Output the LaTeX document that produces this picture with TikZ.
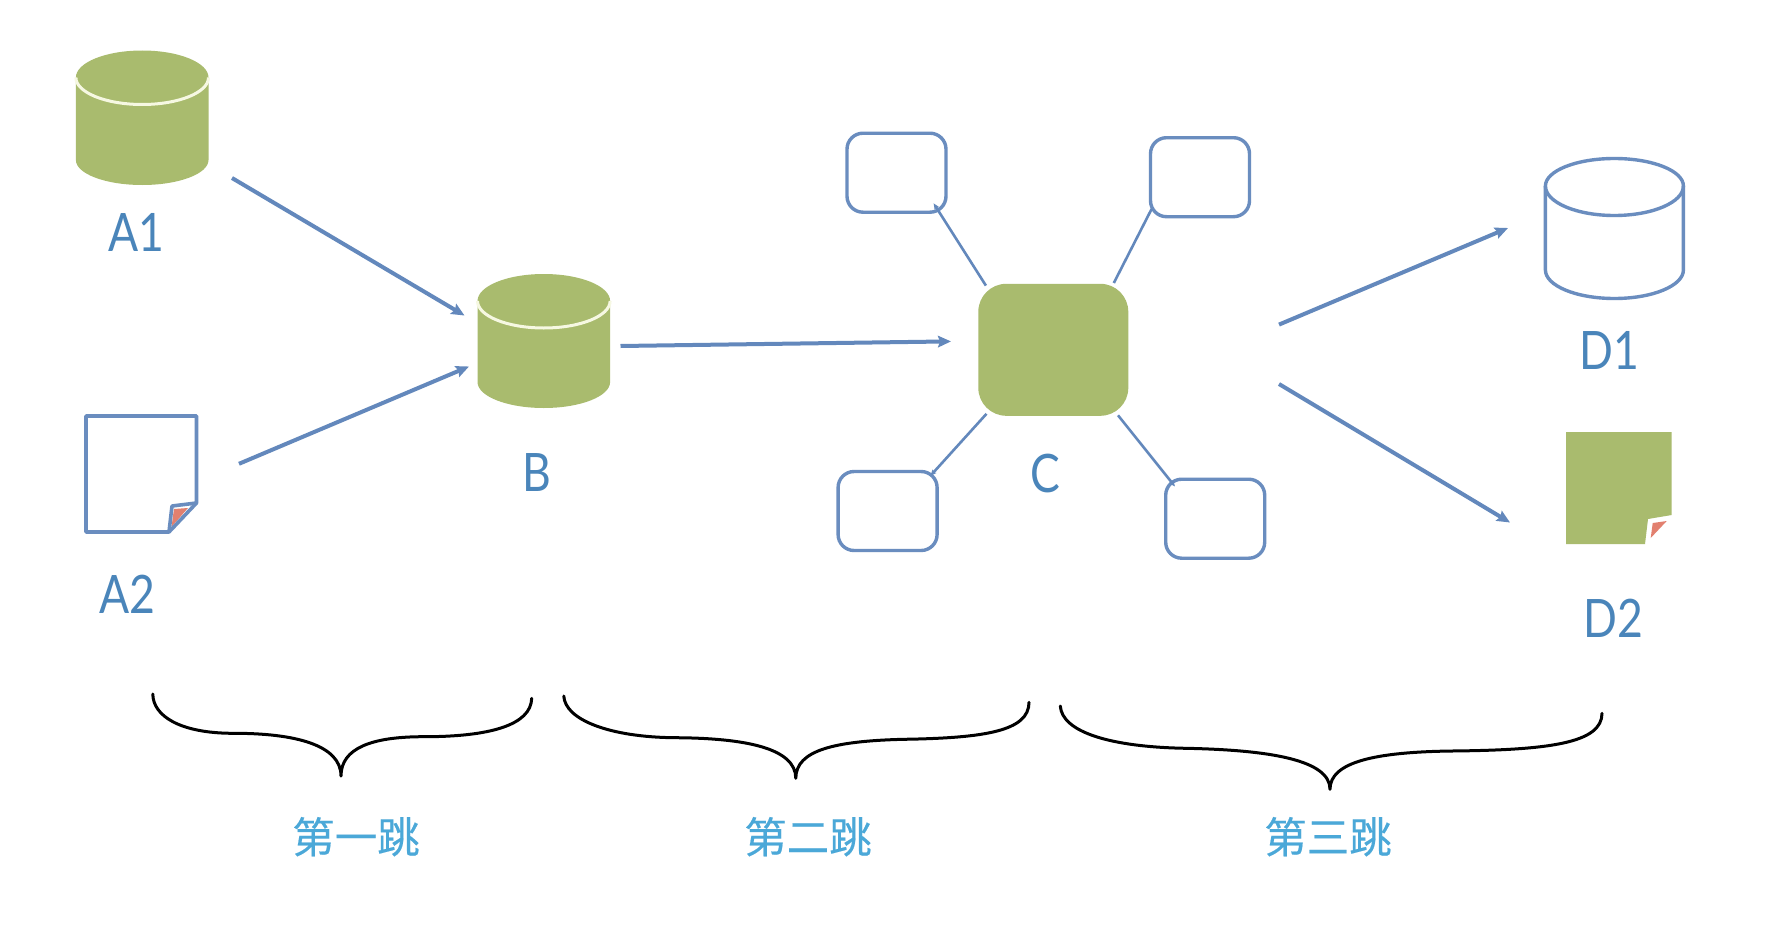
\documentclass[tikz,border=0pt]{standalone}
\usepackage{fontspec}
\usetikzlibrary{arrows.meta}
\setmainfont{Lato}[FakeStretch=0.84]
\newfontfamily\cjkfont[FakeBold=0.35]{Noto Sans CJK SC}
\definecolor{leaf}{HTML}{A9BB6E}
\definecolor{cream}{HTML}{F6F8E2}
\definecolor{edgeblue}{HTML}{6A8DBF}
\definecolor{arrowblue}{HTML}{6388BC}
\definecolor{labelblue}{HTML}{4A85BA}
\definecolor{hopblue}{HTML}{4BA8D8}
\definecolor{foldred}{HTML}{E2806F}
\tikzset{
  flow/.style={draw=arrowblue,line width=4pt,-{Stealth[length=13pt,width=11.5pt,inset=2pt]}},
  spoke/.style={draw=arrowblue,line width=2.6pt,-{Stealth[length=6pt,width=5pt,inset=1pt]}},
  plainspoke/.style={draw=arrowblue,line width=2.6pt},
  smallbox/.style={draw=edgeblue,line width=3.4pt,rounded corners=16pt,minimum width=99pt,minimum height=79pt,inner sep=0pt},
  hub/.style={fill=leaf,rounded corners=28pt,minimum width=150pt,minimum height=132pt,inner sep=0pt},
  letter/.style={text=labelblue,font=\fontsize{53pt}{54pt}\selectfont,anchor=base,inner sep=0pt},
  hop/.style={text=hopblue,font=\cjkfont\fontsize{42.5pt}{43pt}\selectfont,inner sep=0pt},
  bracestroke/.style={draw=black,line width=3pt,line cap=round,line join=round},
}
% cx, top side y, bottom side y, rx, top ry, bottom ry
\newcommand{\solidbarrel}[6]{%
  \fill[leaf] (#1-#4,#2) arc[start angle=180,end angle=0,x radius=#4pt,y radius=#5pt]
    -- (#1+#4,#3) arc[start angle=0,end angle=-180,x radius=#4pt,y radius=#6pt] -- cycle;
  \draw[cream,line width=3pt] (#1-#4,#2) arc[start angle=180,end angle=360,x radius=#4pt,y radius=#5pt];
}
\begin{document}
\begin{tikzpicture}[x=1pt,y=-1pt]
\useasboundingbox[fill=white] (0,0) rectangle (1788,942);

% cylinders
\solidbarrel{142.2}{77.5}{160}{66.3}{27}{25}
\solidbarrel{543.8}{301}{382}{66.3}{27}{26}
\draw[edgeblue,line width=3.4pt,line join=round]
  (1545.4,186) arc[start angle=180,end angle=0,x radius=69pt,y radius=27.5pt]
  -- (1683.4,270) arc[start angle=0,end angle=-180,x radius=69pt,y radius=28.5pt] -- cycle;
\draw[edgeblue,line width=3.4pt] (1545.4,186) arc[start angle=180,end angle=360,x radius=69pt,y radius=29.5pt];

% page A2
\fill[foldred] (174,509) -- (188,508) -- (171.5,527) -- cycle;
\draw[edgeblue,line width=3.6pt,line join=round]
  (86,416) -- (196.5,416) -- (196.5,503) -- (169,532) -- (86,532) -- cycle;
\draw[edgeblue,line width=3.6pt,line join=round] (196.5,503) -- (172,506) -- (169,532);

% page D2
\fill[leaf] (1566,432) -- (1671.7,432) -- (1671.7,515) -- (1648,519) -- (1645,544) -- (1566,544) -- cycle;
\fill[foldred] (1650.7,538) -- (1652.7,523) -- (1666.7,521) -- cycle;

% hub and satellites
\node[hub] (C) at (1053.3,349.8) {};
\node[smallbox] (tl) at (896.5,172.7) {};
\node[smallbox] (tr) at (1200,177.2) {};
\node[smallbox] (bl) at (887.6,511) {};
\node[smallbox] (br) at (1215.2,518.7) {};

% labels
\node[letter] (A1) at (136,251.7) {A1};
\node[letter] (A2) at (127.5,613.6) {A2};
\node[letter] (B) at (536.5,491.6) {B};
\node[letter] (Clabel) at (1045,492) {C};
\node[letter] (D1) at (1609,369.8) {D1};
\node[letter] (D2) at (1613.5,637.7) {D2};

% connector ends
\coordinate (a1out) at (232,178);
\coordinate (bina) at (464.5,315.5);
\coordinate (a2out) at (239,463.8);
\coordinate (binb) at (469,366.5);
\coordinate (bout) at (620.5,346);
\coordinate (cin) at (951,341.4);
\coordinate (cup) at (1279,324.6);
\coordinate (d1in) at (1508,228);
\coordinate (cdown) at (1279,384);
\coordinate (d2in) at (1510,522.5);
\coordinate (stl) at (985.9,285.6);
\coordinate (etl) at (933.6,203.3);
\coordinate (str) at (1113.8,283);
\coordinate (etr) at (1151.6,209);
\coordinate (sbl) at (986.5,413.8);
\coordinate (ebl) at (930.4,475.8);
\coordinate (sbr) at (1118,415.3);
\coordinate (ebr) at (1175,486.5);

\draw[flow] (a1out) -- (bina);
\draw[flow] (a2out) -- (binb);
\draw[flow] (bout) -- (cin);
\draw[flow] (cup) -- (d1in);
\draw[flow] (cdown) -- (d2in);
\draw[spoke] (stl) -- (etl);
\draw[plainspoke] (str) -- (etr);
\draw[spoke] (sbl) -- (ebl);
\draw[spoke] (sbr) -- (ebr);

% braces
\draw[bracestroke] (152.8,694) .. controls (153,716) and (180,733) .. (232,733.3)
  .. controls (295,733) and (341,745) .. (341,776)
  .. controls (341,748) and (372,737) .. (421.5,736.7)
  .. controls (490,737) and (531,725) .. (531.7,698.3);
\draw[bracestroke] (563.8,696) .. controls (565,720) and (610,737) .. (674,737.7)
  .. controls (745,738) and (795.8,748) .. (795.8,778.3)
  .. controls (795.8,750) and (835,741) .. (903.7,739.3)
  .. controls (985,738) and (1029,731) .. (1029,702.3);
\draw[bracestroke] (1060.3,706) .. controls (1062,732) and (1110,747) .. (1186,748.3)
  .. controls (1270,750) and (1330,760) .. (1330,789.3)
  .. controls (1330,762) and (1375,752) .. (1452,751)
  .. controls (1550,750) and (1602,743) .. (1602,713.3);

% hop labels
\node[hop] (h1) at (356,836.7) {第一跳};
\node[hop] (h2) at (808,836.7) {第二跳};
\node[hop] (h3) at (1328,836.7) {第三跳};
\end{tikzpicture}
\end{document}
